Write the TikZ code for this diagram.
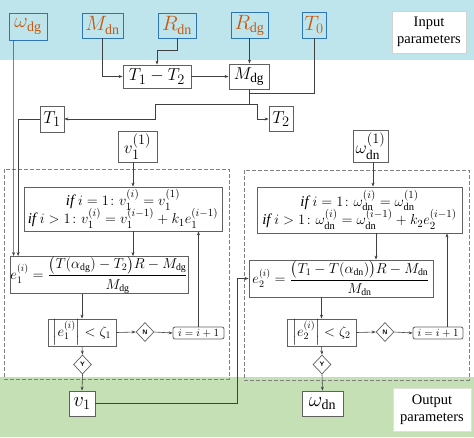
\documentclass[tikz,border=0pt]{standalone}
\usepackage{amsmath}
\usepackage{fontspec}
\setmainfont{Liberation Serif}
\usetikzlibrary{shapes.geometric,arrows.meta,calc}
\definecolor{bandblue}{RGB}{190,228,236}
\definecolor{bandgreen}{RGB}{197,224,180}
\definecolor{inblue}{RGB}{46,117,182}
\definecolor{inorange}{RGB}{197,90,17}
\definecolor{lncol}{RGB}{64,64,64}
\definecolor{bdcol}{RGB}{96,96,96}
\tikzset{
  inbox/.style={draw=inblue, line width=0.9pt, inner sep=0pt, text=inorange, font=\fontsize{20}{22}\selectfont},
  bx/.style={draw=bdcol, line width=0.8pt, fill=white, inner sep=0pt},
  arr/.style={draw=lncol, line width=0.6pt, -{Stealth[length=4pt,width=3pt]}},
  ln/.style={draw=lncol, line width=0.6pt},
  dia/.style={diamond, draw=bdcol, line width=0.7pt, fill=white, inner sep=0pt, minimum width=18pt, minimum height=19pt, font=\sffamily\bfseries\fontsize{6.5}{6.5}\selectfont},
  note/.style={draw=#1, line width=0.8pt, fill=white, inner sep=0pt, align=center, font=\fontsize{14.5}{16.5}\selectfont},
  dbox/.style={draw=gray, dashed, line width=0.8pt, dash pattern=on 4pt off 2pt},
  big/.style={font=\fontsize{19}{21}\selectfont}
}
\begin{document}
\begin{tikzpicture}[x=1pt,y=-1pt]
\useasboundingbox (0,0) rectangle (474,437);
\fill[bandblue] (0,0) rectangle (474,60);
\fill[bandgreen] (0,377) rectangle (474,437);
\draw[dbox] (4,169) rectangle (229,379);
\draw[dbox] (244,170) rectangle (469,380);

% inputs
\node[inbox, minimum width=38pt, minimum height=27pt] (wdg) at (28,26.5) {$\omega_{\mathrm{dg}}$};
\node[inbox, minimum width=41pt, minimum height=25pt] (mdn) at (102.5,25.5) {$M_{\mathrm{dn}}$};
\node[inbox, minimum width=38pt, minimum height=25pt] (rdn) at (177,25.5) {$R_{\mathrm{dn}}$};
\node[inbox, minimum width=37pt, minimum height=26pt] (rdg) at (249.5,25) {$R_{\mathrm{dg}}$};
\node[inbox, minimum width=24pt, minimum height=26pt] (t0) at (314,25) {$T_0$};
\node[note=gray!35, minimum width=74pt, minimum height=42pt] (inp) at (429,32) {Input\\parameters};

\node[bx, big, minimum width=68pt, minimum height=23pt] (t12) at (157,76.5) {$T_1-T_2$};
\node[bx, big, minimum width=40pt, minimum height=25pt] (mdg) at (249,76.5) {$M_{\mathrm{dg}}$};
\node[bx, big, minimum width=24pt, minimum height=26pt] (t1) at (52,119) {$T_1$};
\node[bx, big, minimum width=24pt, minimum height=25pt] (t2) at (281,119) {$T_2$};
\node[bx, big, minimum width=39pt, minimum height=31pt] (v11) at (137.5,146.5) {$v_1^{(1)}$};
\node[bx, big, minimum width=35pt, minimum height=32pt] (wdn1) at (370.5,146) {$\omega_{\mathrm{dn}}^{(1)}$};

% left loop
\node[bx, minimum width=198pt, minimum height=44pt, align=center, font=\fontsize{15}{17}\selectfont] (if1) at (123,209)
  {$\mathit{if}\ i=1\colon v_1^{(i)}=v_1^{(1)}$\\[-3pt]$\mathit{if}\ i>1\colon v_1^{(i)}=v_1^{(i-1)}+k_1e_1^{(i-1)}$};
\node[bx, minimum width=178pt, minimum height=32pt, font=\fontsize{14}{16}\selectfont] (e1) at (99,275)
  {$e_1^{(i)}=\dfrac{\bigl(T(\alpha_{\mathrm{dg}})-T_2\bigr)R-M_{\mathrm{dg}}}{M_{\mathrm{dg}}}$};
\node[bx, minimum width=68pt, minimum height=27pt, font=\fontsize{14}{16}\selectfont] (abs1) at (82,332.5) {$\Bigl|e_1^{(i)}\Bigr|<\zeta_1$};
\node[dia] (n1) at (145,332) {N};
\node[bx, rounded corners=2pt, minimum width=51pt, minimum height=12pt, font=\fontsize{11}{12}\selectfont] (inc1) at (198.5,333) {$i=i+1$};
\node[dia] (y1) at (82.5,364.5) {Y};
\node[bx, minimum width=26pt, minimum height=25pt, font=\fontsize{21}{23}\selectfont] (v1) at (82,403.5) {$v_1$};

% right loop
\node[bx, minimum width=205pt, minimum height=46pt, align=center, font=\fontsize{15}{17}\selectfont] (if2) at (359.5,210)
  {$\mathit{if}\ i=1\colon \omega_{\mathrm{dn}}^{(i)}=\omega_{\mathrm{dn}}^{(1)}$\\[-3pt]$\mathit{if}\ i>1\colon \omega_{\mathrm{dn}}^{(i)}=\omega_{\mathrm{dn}}^{(i-1)}+k_2e_2^{(i-1)}$};
\node[bx, minimum width=184pt, minimum height=37pt, font=\fontsize{14}{16}\selectfont] (e2) at (341,278.5)
  {$e_2^{(i)}=\dfrac{\bigl(T_1-T(\alpha_{\mathrm{dn}})\bigr)R-M_{\mathrm{dn}}}{M_{\mathrm{dn}}}$};
\node[bx, minimum width=69pt, minimum height=27pt, font=\fontsize{14}{16}\selectfont] (abs2) at (321.5,332.5) {$\Bigl|e_2^{(i)}\Bigr|<\zeta_2$};
\node[dia] (n2) at (385,332) {N};
\node[bx, rounded corners=2pt, minimum width=50pt, minimum height=12pt, font=\fontsize{11}{12}\selectfont] (inc2) at (438,333) {$i=i+1$};
\node[dia] (y2) at (322,364.5) {Y};
\node[bx, minimum width=41pt, minimum height=25pt, font=\fontsize{20}{22}\selectfont] (wdn) at (322.5,403.5) {$\omega_{\mathrm{dn}}$};
\node[note=bandgreen!60!gray!40, minimum width=78pt, minimum height=43pt] (out) at (432,409.5) {Output\\parameters};

% coordinates
\coordinate (j0) at (249,93);
\coordinate (j1) at (249,104);
\coordinate (k1) at (155,104);
\coordinate (k2) at (257,104);
\coordinate (k3) at (237,403.5);

% connectors top
\draw[arr] (mdn.south) |- (t12.west);
\draw[arr] (rdn.south) -- ++(0,12) -| (t12.north);
\draw[arr] (t12.east) -- (mdg.west);
\draw[arr] (rdg.south) -- (rdg.south |- mdg.north);
\draw[ln] (t0.south) |- (j0);
\draw[ln] (mdg.south) -- (j1);
\draw[arr] (j1) -- (k1) |- (t1.east);
\draw[arr] (j1) -- (k2) |- (t2.west);
\draw[arr] ([xshift=5pt]wdg.south west) -- ([xshift=4pt]e1.north west);
\draw[arr] (t1.west) -| ([xshift=8.5pt]e1.north west);

% left loop connectors
\draw[arr] ([xshift=-4.5pt]v11.south) -- ([xshift=-4.5pt]v11.south |- if1.north);
\draw[arr] ([xshift=10pt]if1.south) -- ([xshift=10pt]if1.south |- e1.north);
\draw[arr] (abs1.north |- e1.south) -- (abs1.north);
\draw[arr] (abs1.east) -- (n1.west);
\draw[arr] (n1.east) -- (inc1.west);
\draw[arr] (inc1.north) -- (inc1.north |- if1.south);
\draw[arr] (abs1.south) -- (y1.north);
\draw[arr] (y1.south) -- (v1.north);
\draw[arr] (v1.east) -- (k3) |- (e2.west);

% right loop connectors
\draw[arr] ([xshift=2.5pt]wdn1.south) -- ([xshift=2.5pt]wdn1.south |- if2.north);
\draw[arr] ([xshift=16.5pt]if2.south) -- ([xshift=16.5pt]if2.south |- e2.north);
\draw[arr] (abs2.north |- e2.south) -- (abs2.north);
\draw[arr] (abs2.east) -- (n2.west);
\draw[arr] (n2.east) -- (inc2.west);
\draw[arr] ([xshift=9pt]inc2.north) -- ([xshift=9pt]inc2.north |- if2.south);
\draw[arr] (abs2.south) -- (y2.north);
\draw[arr] (y2.south) -- (wdn.north);
\end{tikzpicture}
\end{document}
